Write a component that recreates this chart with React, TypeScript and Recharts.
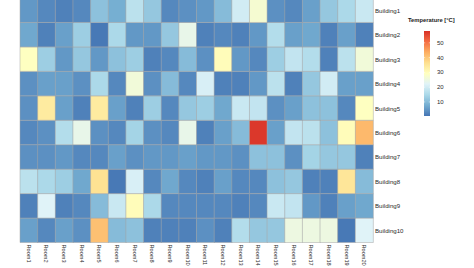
import React from 'react';
import { BarChart, Bar, XAxis, YAxis, Cell, Customized } from 'recharts';

const rooms = [
  'Room1', 'Room2', 'Room3', 'Room4', 'Room5', 'Room6', 'Room7', 'Room8', 'Room9', 'Room10',
  'Room11', 'Room12', 'Room13', 'Room14', 'Room15', 'Room16', 'Room17', 'Room18', 'Room19', 'Room20',
];
const buildings = [
  'Building1', 'Building2', 'Building3', 'Building4', 'Building5',
  'Building6', 'Building7', 'Building8', 'Building9', 'Building10',
];

const building1 = [5, 3, 2, 3, 11, 8, 17, 12, 3, 4, 5, 10, 20, 27, 4, 3, 6, 12, 15, 19];
const building2 = [7, 2, 6, 13, 1, 15, 5, 5, 12, 24, 2, 3, 2, 5, 16, 6, 7, 2, 6, 2];
const building3 = [29, 13, 5, 12, 5, 11, 13, 2, 3, 10, 4, 30, 5, 3, 13, 18, 16, 2, 17, 26];
const building4 = [4, 6, 6, 4, 15, 3, 26, 4, 10, 3, 21, 2, 2, 5, 17, 2, 12, 20, 6, 6];
const building5 = [4, 34, 6, 2, 34, 6, 2, 13, 3, 12, 13, 7, 19, 18, 4, 6, 11, 11, 3, 29];
const building6 = [3, 4, 16, 24, 4, 3, 14, 4, 3, 24, 2, 6, 10, 57, 6, 18, 17, 11, 30, 42];
const building7 = [4, 4, 5, 3, 3, 6, 4, 5, 5, 6, 5, 5, 4, 11, 11, 4, 14, 12, 12, 2];
const building8 = [17, 15, 13, 7, 36, 1, 21, 3, 7, 3, 2, 6, 3, 3, 11, 12, 2, 2, 35, 10];
const building9 = [2, 22, 2, 3, 10, 19, 30, 15, 3, 3, 3, 3, 2, 3, 19, 18, 5, 2, 6, 7];
const building10 = [6, 3, 6, 4, 41, 10, 11, 2, 2, 2, 4, 2, 16, 12, 12, 25, 25, 25, 1, 22];

const temperatures = [
  building1, building2, building3, building4, building5,
  building6, building7, building8, building9, building10,
];

const legendTicks = [10, 20, 30, 40, 50];
const tempMin = 0.5;
const tempMax = 58;
const palette = ['#4575b4', '#74add1', '#abd9e9', '#e0f3f8', '#ffffbf', '#fee090', '#fdae61', '#f46d43', '#d73027'];

const FONT = '"Liberation Sans", Arial, Helvetica, sans-serif';

function hexToRgb(h: string) {
  const n = parseInt(h.slice(1), 16);
  return [(n >> 16) & 255, (n >> 8) & 255, n & 255];
}

function colorFor(v: number) {
  const t = Math.min(1, Math.max(0, (v - tempMin) / (tempMax - tempMin)));
  const pos = t * (palette.length - 1);
  const i = Math.min(palette.length - 2, Math.floor(pos));
  const f = pos - i;
  const a = hexToRgb(palette[i]);
  const b = hexToRgb(palette[i + 1]);
  const c = a.map((x, k) => Math.round(x + (b[k] - x) * f));
  return `rgb(${c[0]},${c[1]},${c[2]})`;
}

const data = rooms.map((room) => {
  const row: Record<string, any> = { room };
  buildings.forEach((b) => {
    row[b] = 1;
  });
  return row;
});

const buildingTicks = buildings.map((_, i) => i + 0.5);

const RoomTick = (props: any) => {
  const { x, y, payload } = props;
  return (
    <text
      x={x}
      y={y}
      transform={`rotate(90, ${x}, ${y})`}
      textAnchor="start"
      dominantBaseline="central"
      fontSize={5.6}
      fontFamily={FONT}
      fill="#2a2a2a"
    >
      {payload.value}
    </text>
  );
};

const BuildingTick = (props: any) => {
  const { x, y, payload } = props;
  const idx = buildings.length - 1 - Math.floor(payload.value);
  return (
    <text x={x} y={y} textAnchor="start" dominantBaseline="central" fontSize={6.1} fontFamily={FONT} fill="#2a2a2a">
      {buildings[idx]}
    </text>
  );
};

// chart coordinates are page coordinates + 2 in y (wrapper is shifted up by 2px)
const barX = 424;
const barW = 6;
const barTop = 33;
const barBottom = 118;
const valueToY = (v: number) => barBottom - ((v - tempMin) / (tempMax - tempMin)) * (barBottom - barTop);

const TempLegend = () => (
  <g>
    <defs>
      <linearGradient id="tempGrad" x1="0" y1="1" x2="0" y2="0">
        {palette.map((c, i) => (
          <stop key={i} offset={i / (palette.length - 1)} stopColor={c} />
        ))}
      </linearGradient>
    </defs>
    <text x={408} y={24} fontSize={5.8} fontWeight="bold" fontFamily={FONT} fill="#222">
      Temperature [°C]
    </text>
    <rect x={barX} y={barTop} width={barW} height={barBottom - barTop} fill="url(#tempGrad)" />
    {legendTicks.map((t) => (
      <g key={t}>
        <line x1={barX} x2={barX + 1.2} y1={valueToY(t)} y2={valueToY(t)} stroke="#fff" strokeWidth={0.5} />
        <line x1={barX + barW - 1.2} x2={barX + barW} y1={valueToY(t)} y2={valueToY(t)} stroke="#fff" strokeWidth={0.5} />
        <text x={437} y={valueToY(t)} dominantBaseline="central" fontSize={6} fontFamily={FONT} fill="#2a2a2a">
          {t}
        </text>
      </g>
    ))}
  </g>
);

export default function App() {
  const stackOrder = buildings.map((b, i) => ({ b, i })).reverse();
  return (
    <div style={{ position: 'absolute', left: 0, top: -2, width: 474, height: 270, background: '#fff' }}>
      <BarChart
        width={474}
        height={270}
        data={data}
        margin={{ top: 0, right: 0, bottom: 0, left: 20 }}
        barCategoryGap={0}
        barGap={0}
      >
        <XAxis
          dataKey="room"
          type="category"
          height={25.5}
          axisLine={false}
          tickLine={false}
          tickSize={0}
          tickMargin={2}
          interval={0}
          tick={<RoomTick />}
        />
        <YAxis
          orientation="right"
          type="number"
          domain={[0, 10]}
          ticks={buildingTicks}
          width={101}
          axisLine={false}
          tickLine={false}
          tickSize={0}
          tickMargin={2}
          interval={0}
          tick={<BuildingTick />}
        />
        {stackOrder.map(({ b, i }) => (
          <Bar key={b} dataKey={b} stackId="grid" isAnimationActive={false}>
            {rooms.map((room, r) => (
              <Cell key={room} fill={colorFor(temperatures[i][r])} stroke="#a4a4a4" strokeWidth={0.5} />
            ))}
          </Bar>
        ))}
        <Customized component={TempLegend} />
      </BarChart>
    </div>
  );
}
